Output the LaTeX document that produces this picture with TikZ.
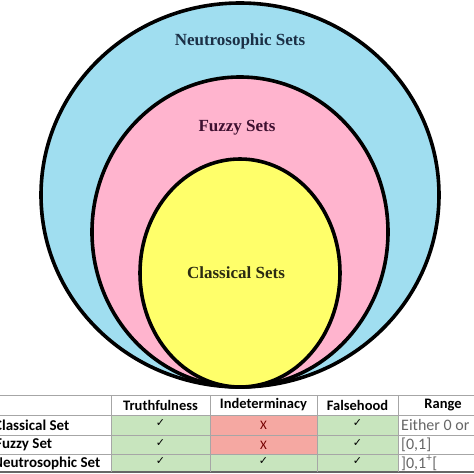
\documentclass[tikz,border=0pt]{standalone}
\usepackage{fontspec}
\setmainfont{Carlito}
\newfontfamily\setsfont{Liberation Serif}
\newfontfamily\marksfont{DejaVu Sans}
\definecolor{skyfill}{HTML}{A0DEF0}
\definecolor{pinkfill}{HTML}{FFB4CE}
\definecolor{lemonfill}{HTML}{FFFF6A}
\definecolor{okfill}{HTML}{C8E5BE}
\definecolor{nofill}{HTML}{F5A8A2}
\definecolor{gridgray}{HTML}{A6A6A6}
\definecolor{navyink}{HTML}{1B2F45}
\definecolor{plumink}{HTML}{3E1030}
\definecolor{oliveink}{HTML}{2B2B12}
\newcommand{\chk}{{\marksfont\fontsize{11}{12}\selectfont\char"2713}}

\begin{document}
\begin{tikzpicture}[x=1pt,y=-1pt,
  setline/.style={draw=black,line width=3.6pt},
  setlabel/.style={font=\setsfont\bfseries\fontsize{17}{19}\selectfont},
  grid/.style={draw=gridgray,line width=.8pt},
  head/.style={font=\bfseries\fontsize{14.5}{16}\selectfont,inner sep=0pt},
  rowhead/.style={font=\bfseries\fontsize{15}{16}\selectfont,inner sep=0pt,anchor=west},
  rangetxt/.style={font=\fontsize{16}{17}\selectfont,text=black!60,inner sep=0pt,anchor=west},
  nomark/.style={font=\fontsize{13}{14}\selectfont,text=red!45!black,inner sep=0pt}]
  \useasboundingbox (0,0) rectangle (474,474);
  \clip (0,0) rectangle (474,474);
  % nested sets
  \draw[setline,fill=skyfill] (240,195) ellipse [x radius=199,y radius=192];
  \draw[setline,fill=pinkfill] (240,232) ellipse [x radius=148,y radius=155];
  \draw[setline,fill=lemonfill] (240,273) ellipse [x radius=100,y radius=114];
  \node[setlabel,text=navyink] (neutro) at (240,41) {Neutrosophic Sets};
  \node[setlabel,text=plumink] (fuzzy) at (237,128) {Fuzzy Sets};
  \node[setlabel,text=oliveink] (classic) at (236,273) {Classical Sets};
  % comparison table
  \fill[okfill] (111,415) rectangle (398,472);
  \fill[nofill] (210,415) rectangle (317,454);
  \foreach \y in {395,415,435,454}
    \draw[grid] (-10,\y) -- (480,\y);
  \draw[draw=black!60,line width=1.8pt] (-10,472) -- (480,472);
  \foreach \x in {111,210,317,398}
    \draw[grid] (\x,395) -- (\x,472);
  \node[head] (hTruth) at (160.5,405) {Truthfulness};
  \node[head] (hIndet) at (263.5,405) {Indeterminacy};
  \node[head] (hFalse) at (357.5,405) {Falsehood};
  \node[head] (hRange) at (443,405) {Range};
  \node[rowhead] (rClassic) at (-6,425) {Classical Set};
  \node[rowhead] (rFuzzy) at (-5,444.5) {Fuzzy Set};
  \node[rowhead] (rNeutro) at (-7,463) {Neutrosophic Set};
  \foreach \r/\y in {1/423.5,2/443,3/461.5} {
    \node (t\r) at (160.5,\y) {\chk};
    \node (f\r) at (357.5,\y) {\chk};
  }
  \node[nomark] (i1) at (263.5,425.5) {X};
  \node[nomark] (i2) at (263.5,445) {X};
  \node (i3) at (263.5,461.5) {\chk};
  \node[rangetxt] (gClassic) at (401,425) {Either 0 or 1};
  \node[rangetxt] (gFuzzy) at (401,444.5) {[0,1]};
  \node[rangetxt] (gNeutro) at (401,463) {]0,1\textsuperscript{+}[};
\end{tikzpicture}
\end{document}
